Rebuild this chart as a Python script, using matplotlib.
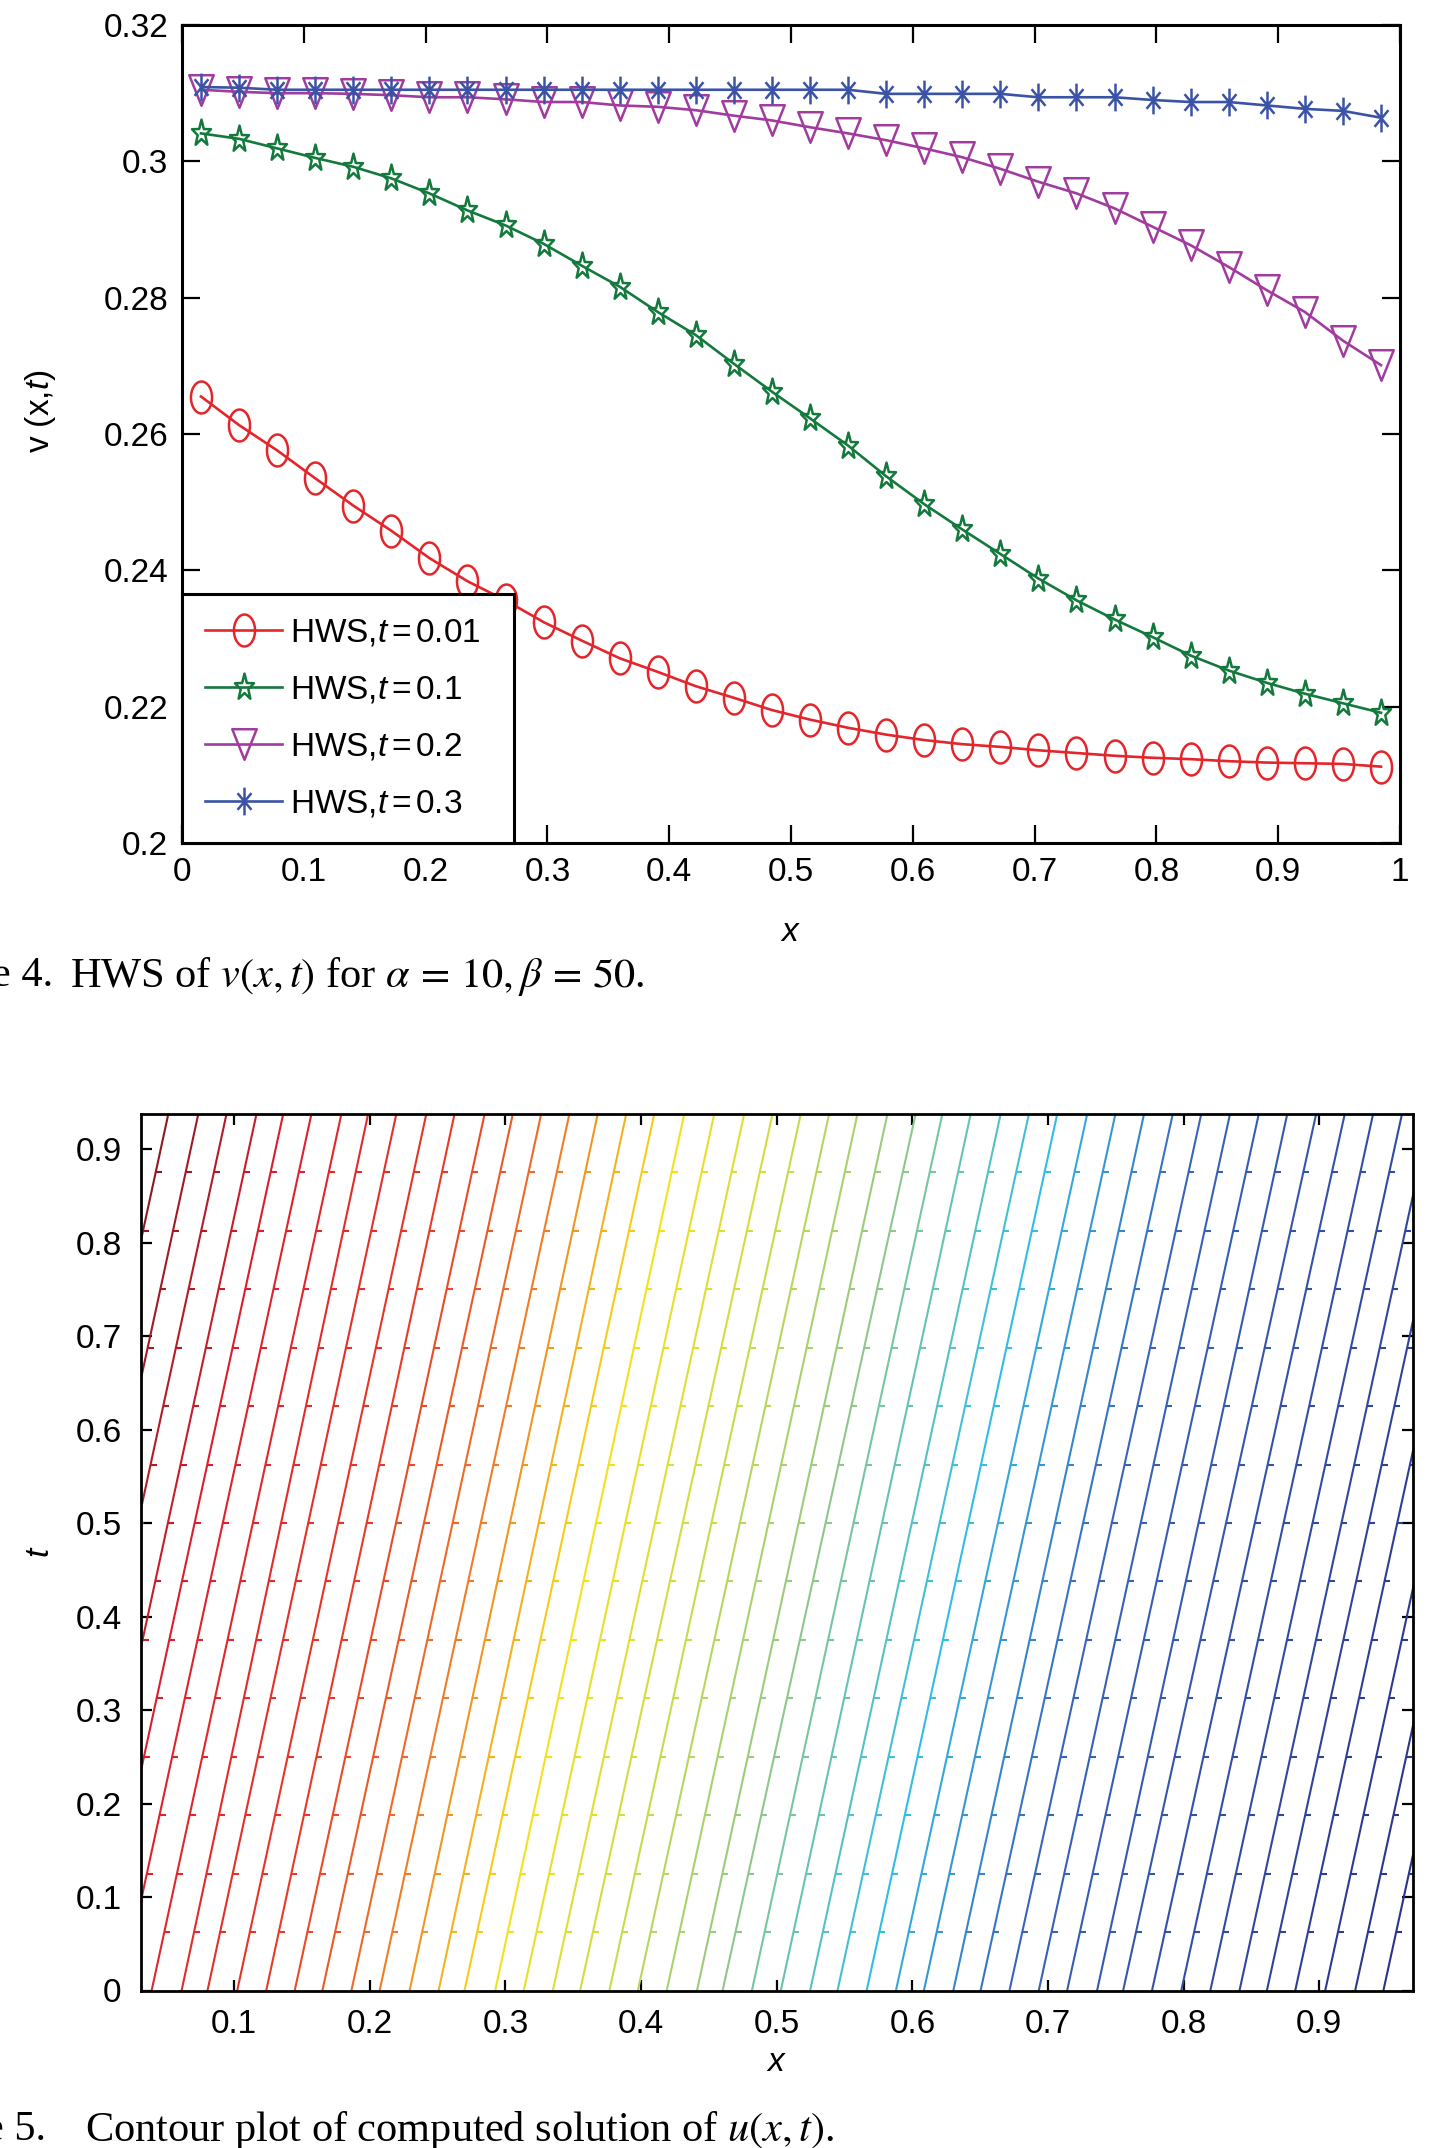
import numpy as np
import matplotlib
matplotlib.use("Agg")
import matplotlib.pyplot as plt
from matplotlib.path import Path
from matplotlib.transforms import Affine2D
from matplotlib.colors import LinearSegmentedColormap

plt.rcParams['font.family'] = ['Liberation Sans', 'DejaVu Sans']
plt.rcParams['mathtext.fontset'] = 'custom'
plt.rcParams['mathtext.rm'] = 'Liberation Sans'
plt.rcParams['mathtext.it'] = 'Liberation Sans:italic'

# ---- figure 4 data: HWS solution v(x,t) at collocation points ----
x_hws = [0.0156, 0.0469, 0.0781, 0.1094, 0.1406, 0.1719, 0.2031, 0.2344,
         0.2656, 0.2969, 0.3281, 0.3594, 0.3906, 0.4219, 0.4531, 0.4844,
         0.5156, 0.5469, 0.5781, 0.6094, 0.6406, 0.6719, 0.7031, 0.7344,
         0.7656, 0.7969, 0.8281, 0.8594, 0.8906, 0.9219, 0.9531, 0.9844]

v_t001 = [0.2655, 0.2613, 0.2576, 0.2535, 0.2495, 0.2458, 0.2418, 0.2384,
          0.2356, 0.2324, 0.2297, 0.2271, 0.2251, 0.2230, 0.2213, 0.2195,
          0.2181, 0.2169, 0.2159, 0.2151, 0.2145, 0.2141, 0.2136, 0.2132,
          0.2128, 0.2125, 0.2123, 0.2120, 0.2118, 0.2117, 0.2116, 0.2112]

v_t01 = [0.3041, 0.3033, 0.3019, 0.3005, 0.2992, 0.2975, 0.2953, 0.2928,
         0.2906, 0.2879, 0.2847, 0.2816, 0.2779, 0.2745, 0.2703, 0.2662,
         0.2623, 0.2583, 0.2538, 0.2497, 0.2460, 0.2424, 0.2388, 0.2356,
         0.2328, 0.2302, 0.2275, 0.2253, 0.2235, 0.2219, 0.2205, 0.2191]

v_t02 = [0.3105, 0.3102, 0.3100, 0.3100, 0.3099, 0.3097, 0.3094, 0.3094,
         0.3091, 0.3087, 0.3087, 0.3082, 0.3080, 0.3075, 0.3067, 0.3060,
         0.3050, 0.3041, 0.3031, 0.3019, 0.3006, 0.2989, 0.2970, 0.2953,
         0.2931, 0.2904, 0.2877, 0.2845, 0.2811, 0.2779, 0.2737, 0.2701]

v_t03 = [0.3109, 0.3108, 0.3105, 0.3105, 0.3105, 0.3105, 0.3105, 0.3105,
         0.3105, 0.3105, 0.3105, 0.3105, 0.3105, 0.3105, 0.3105, 0.3105,
         0.3105, 0.3105, 0.3099, 0.3099, 0.3099, 0.3099, 0.3094, 0.3094,
         0.3094, 0.3090, 0.3087, 0.3087, 0.3082, 0.3077, 0.3074, 0.3064]

labels4 = [r"HWS,$t\,$=$\,$0.01", r"HWS,$t\,$=$\,$0.1",
           r"HWS,$t\,$=$\,$0.2", r"HWS,$t\,$=$\,$0.3"]
colors4 = ['#e2262c', '#14793c', '#a13c9e', '#3a53a6']

yticks4 = [0.2, 0.22, 0.24, 0.26, 0.28, 0.3, 0.32]
ytick_labels4 = ['0.2', '0.22', '0.24', '0.26', '0.28', '0.3', '0.32']
xticks4 = [0, 0.1, 0.2, 0.3, 0.4, 0.5, 0.6, 0.7, 0.8, 0.9, 1]
xtick_labels4 = ['0', '0.1', '0.2', '0.3', '0.4', '0.5', '0.6', '0.7', '0.8', '0.9', '1']

# ---- figure 5 data: contour lines of u(x,t), x where each line meets t=0 and t=top ----
t_top = 0.9375
contour_x_bottom = [-0.0886, -0.0665, -0.0457, -0.0236, -0.0039, 0.0169, 0.0391, 0.0612,
                    0.0803, 0.1022, 0.1236, 0.1446, 0.1650, 0.1864, 0.2072, 0.2293,
                    0.2507, 0.2698, 0.2924, 0.3135, 0.3349, 0.3550, 0.3766, 0.3976,
                    0.4189, 0.4412, 0.4601, 0.4817, 0.5030, 0.5246, 0.5448, 0.5663,
                    0.5879, 0.6085, 0.6302, 0.6503, 0.6716, 0.6932, 0.7141, 0.7362,
                    0.7554, 0.7767, 0.7983, 0.8197, 0.8412, 0.8614, 0.8823, 0.9044,
                    0.9265, 0.9473]
contour_x_top = [0.0514, 0.0735, 0.0943, 0.1164, 0.1361, 0.1569, 0.1790, 0.1987,
                 0.2195, 0.2416, 0.2624, 0.2846, 0.3054, 0.3263, 0.3471, 0.3680,
                 0.3890, 0.4097, 0.4318, 0.4539, 0.4760, 0.4969, 0.5177, 0.5386,
                 0.5595, 0.5816, 0.6024, 0.6221, 0.6430, 0.6651, 0.6859, 0.7068,
                 0.7289, 0.7497, 0.7708, 0.7920, 0.8130, 0.8342, 0.8554, 0.8764,
                 0.8977, 0.9188, 0.9397, 0.9610, 0.9822, 1.0024, 1.0233, 1.0454,
                 1.0675, 1.0883]
# grid rows where the little horizontal nicks show up
nick_t = [0.0625, 0.125, 0.1875, 0.25, 0.3125, 0.375, 0.4375, 0.5,
          0.5625, 0.625, 0.6875, 0.75, 0.8125, 0.875]

xticks5 = [0.1, 0.2, 0.3, 0.4, 0.5, 0.6, 0.7, 0.8, 0.9]
xtick_labels5 = ['0.1', '0.2', '0.3', '0.4', '0.5', '0.6', '0.7', '0.8', '0.9']
yticks5 = [0, 0.1, 0.2, 0.3, 0.4, 0.5, 0.6, 0.7, 0.8, 0.9]
ytick_labels5 = ['0', '0.1', '0.2', '0.3', '0.4', '0.5', '0.6', '0.7', '0.8', '0.9']


# ---- marker shapes (the printed markers are taller than wide) ----
th = np.linspace(0, 2 * np.pi, 61)
m_circle = Path(np.column_stack([0.66 * np.cos(th), np.sin(th)]))
m_star = Path.unit_regular_star(5, 0.4).transformed(Affine2D().scale(0.72, 1.0))
m_tri = Path([(-0.40, 0.5), (0.40, 0.5), (0.0, -0.5), (-0.40, 0.5), (-0.40, 0.5)], closed=True)
m_ast = Path([(0, -1), (0, 1), (-0.5, -0.6), (0.5, 0.6), (-0.5, 0.6), (0.5, -0.6)],
             [Path.MOVETO, Path.LINETO] * 3)
m_nick = Path([(0, 0), (1, 0)], [Path.MOVETO, Path.LINETO])

fig = plt.figure(figsize=(14.47, 21.48), dpi=100)
W, H = 1447.0, 2148.0

# ================= Figure 4 =================
ax1 = fig.add_axes([182 / W, 1 - 843 / H, (1400 - 182) / W, (843 - 25) / H])
series = [v_t001, v_t01, v_t02, v_t03]
markers = [m_circle, m_star, m_tri, m_ast]
msizes = [23, 20, 22, 20]
for vals, mk, ms, col, lab in zip(series, markers, msizes, colors4, labels4):
    ax1.plot(x_hws, vals, color=col, lw=1.9, marker=mk, ms=ms, mfc='none',
             mec=col, mew=1.8, label=lab)

ax1.set_xlim(0, 1)
ax1.set_ylim(0.2, 0.32)
ax1.set_xticks(xticks4)
ax1.set_xticklabels(xtick_labels4)
ax1.set_yticks(yticks4)
ax1.set_yticklabels(ytick_labels4)
ax1.tick_params(direction='in', length=13, width=1.6, top=True, right=True,
                labelsize=24, pad=10)
for sp in ax1.spines.values():
    sp.set_linewidth(2.2)

ax1.set_xlabel(r"$x$", fontsize=24)
ax1.xaxis.set_label_coords(0.5, -0.109)
ax1.xaxis.label.set_va('center')
ax1.set_ylabel(r"v (x,$t$)", fontsize=24)
ax1.yaxis.set_label_coords(-0.116, 0.528)
ax1.yaxis.label.set_va('center')

leg = ax1.legend(loc='lower left', bbox_to_anchor=(0, 0, 0.2726, 0.3), mode='expand',
                 borderaxespad=0, fontsize=24, handlelength=2.3, handletextpad=0.25,
                 labelspacing=0.78, borderpad=0.7, numpoints=1, fancybox=False,
                 framealpha=1, edgecolor='black')
leg.get_frame().set_linewidth(2.2)

# ================= Figure 5 =================
ax2 = fig.add_axes([141 / W, 1 - 1990.5 / H, (1412.5 - 141) / W, (1990.5 - 1114) / H])

cmap5 = LinearSegmentedColormap.from_list('printjet', [
    (0.00, (0.55, 0.10, 0.13)),
    (0.08, (0.86, 0.12, 0.18)),
    (0.20, (0.90, 0.22, 0.16)),
    (0.29, (0.94, 0.50, 0.15)),
    (0.36, (0.97, 0.88, 0.10)),
    (0.45, (0.78, 0.86, 0.30)),
    (0.53, (0.55, 0.78, 0.55)),
    (0.63, (0.20, 0.74, 0.90)),
    (0.73, (0.22, 0.40, 0.74)),
    (1.00, (0.17, 0.20, 0.55)),
])
n_lines = len(contour_x_bottom)
for i, (xb, xt) in enumerate(zip(contour_x_bottom, contour_x_top)):
    col = cmap5(i / (n_lines - 1))
    ax2.plot([xb, xt], [0, t_top], color=col, lw=1.5)
    nick_x = np.interp(nick_t, [0, t_top], [xb, xt])
    ax2.plot(nick_x, nick_t, ls='none', marker=m_nick, ms=8, mec=col, mew=1.5)

ax2.set_xlim(0.03125, 0.96875)
ax2.set_ylim(0, t_top)
ax2.set_xticks(xticks5)
ax2.set_xticklabels(xtick_labels5)
ax2.set_yticks(yticks5)
ax2.set_yticklabels(ytick_labels5)
ax2.tick_params(direction='in', length=8, width=1.6, top=True, right=True,
                labelsize=24, pad=13)
ax2.tick_params(axis='y', pad=14)
for sp in ax2.spines.values():
    sp.set_linewidth(2.0)

ax2.set_xlabel(r"$x$", fontsize=24)
ax2.xaxis.set_label_coords(0.5, -0.082)
ax2.xaxis.label.set_va('center')
ax2.set_ylabel(r"$t$", fontsize=24)
ax2.yaxis.set_label_coords(-0.079, 0.5)
ax2.yaxis.label.set_va('center')

# ---- captions (cut off at the left edge like the scan) ----
cap_kw = dict(fontsize=30.5, family='Liberation Serif', math_fontfamily='stix', va='center')
fig.text(53 / W, 1 - 976 / H, "Figure 4.", ha='right', **cap_kw)
fig.text(70 / W, 1 - 976 / H, r"HWS of $v(x,t)$ for $\alpha\,=\,10, \beta\,=\,50$.",
         ha='left', **cap_kw)
fig.text(46 / W, 1 - 2130 / H, "Figure 5.", ha='right', **cap_kw)
fig.text(85 / W, 1 - 2130 / H, r"Contour plot of computed solution of $u(x,t)$.",
         ha='left', **cap_kw)

fig.savefig("out.png", dpi=100)
